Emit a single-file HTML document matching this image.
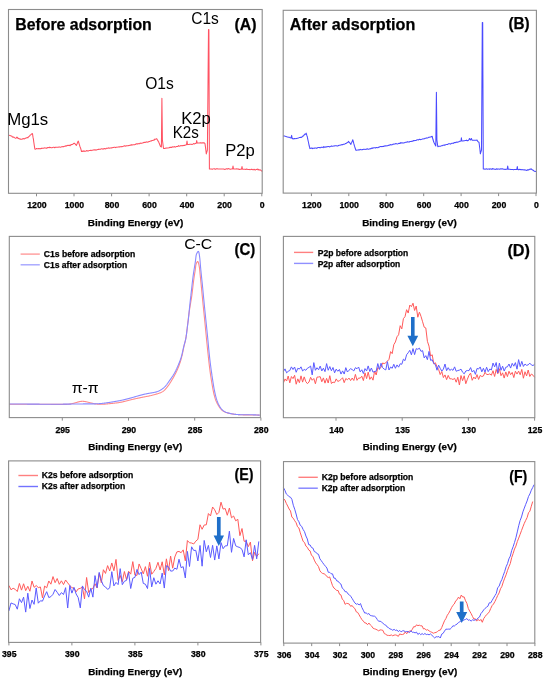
<!DOCTYPE html>
<html><head><meta charset="utf-8"><title>XPS spectra before and after adsorption</title>
<style>html,body{margin:0;padding:0;background:#fff;}svg{display:block;}</style>
</head><body>
<svg width="550" height="683" viewBox="0 0 550 683">
<rect width="550" height="683" fill="#fff"/>
<polyline points="8.50,134.90 9.20,135.29 9.90,135.48 10.60,135.66 11.30,136.08 12.00,136.28 12.00,136.51 12.70,137.11 13.40,137.02 14.10,137.31 14.80,137.87 15.50,138.15 16.00,138.32 16.20,137.84 16.90,137.12 17.00,137.15 17.60,137.66 18.00,138.50 18.30,138.29 19.00,138.67 19.70,138.79 20.00,139.25 20.40,138.99 21.10,139.28 21.80,139.20 22.50,139.07 23.20,138.51 23.90,138.89 24.00,138.99 24.60,138.80 25.30,138.18 26.00,138.14 26.70,137.77 27.40,137.55 28.00,137.73 28.10,137.22 28.80,136.69 29.50,136.19 30.20,135.17 30.90,134.58 31.50,134.02 31.60,133.99 32.30,133.57 32.50,133.82 33.00,137.20 33.50,139.66 33.70,141.54 34.40,146.12 34.80,148.66 35.10,149.22 35.80,148.91 36.50,148.44 37.20,148.68 37.90,148.75 38.60,148.54 39.30,148.69 40.00,148.49 40.00,148.65 40.70,148.75 41.40,148.23 42.10,148.36 42.80,148.15 43.50,148.21 44.20,147.86 44.90,147.93 45.60,147.95 46.30,148.13 47.00,148.12 47.70,147.52 48.40,147.57 49.10,147.82 49.80,147.18 50.00,147.50 50.50,147.55 51.20,147.82 51.90,147.66 52.60,147.40 53.30,147.35 54.00,147.34 54.70,147.70 55.40,147.24 56.10,147.23 56.80,147.34 57.50,147.20 58.20,147.15 58.90,146.91 59.60,147.12 60.00,147.00 60.30,147.30 61.00,147.06 61.70,146.79 62.40,146.82 63.10,146.47 63.80,146.65 64.50,146.29 65.20,146.29 65.90,145.75 66.60,145.99 67.30,145.41 68.00,145.21 68.70,145.47 69.40,145.21 70.00,145.34 70.10,145.76 70.80,144.83 71.50,144.62 72.20,144.55 72.50,144.51 72.90,144.06 73.60,143.51 74.20,143.25 74.30,143.32 75.00,143.71 75.70,144.65 76.40,145.41 76.40,145.17 77.10,143.80 77.80,141.90 78.30,141.11 78.50,141.65 79.20,144.10 79.60,145.37 79.90,146.42 80.60,148.22 81.30,150.62 81.50,151.58 82.00,150.97 82.70,151.55 83.40,150.89 84.10,151.36 84.80,150.93 85.50,151.20 86.20,150.98 86.90,150.53 87.60,151.06 88.30,151.02 89.00,150.60 89.70,150.48 90.00,150.46 90.40,150.24 91.10,150.61 91.80,150.16 92.50,150.19 93.20,149.94 93.90,149.89 94.60,149.67 95.30,150.14 96.00,149.75 96.70,149.91 97.40,149.61 98.10,149.38 98.80,149.37 99.50,149.24 100.00,149.30 100.20,149.19 100.90,149.12 101.60,148.80 102.30,148.83 103.00,149.29 103.70,148.69 104.40,148.52 105.10,148.74 105.80,148.88 106.50,148.17 107.20,148.35 107.90,148.17 108.60,147.84 109.30,148.30 110.00,148.04 110.70,147.98 111.40,147.71 112.10,147.89 112.80,147.58 113.50,147.58 114.20,147.28 114.90,147.17 115.60,147.64 116.30,147.15 117.00,147.24 117.70,147.08 118.40,146.90 119.10,146.80 119.80,146.96 120.00,146.73 120.50,146.68 121.20,146.61 121.90,146.75 122.60,146.52 123.30,146.34 124.00,146.02 124.70,145.72 125.40,146.12 126.10,146.01 126.80,145.65 127.50,145.68 128.20,145.62 128.90,145.51 129.60,145.42 130.30,145.00 131.00,145.32 131.70,144.60 132.40,144.94 133.10,144.75 133.80,144.72 134.50,144.82 135.20,144.62 135.90,143.92 136.60,143.69 137.30,144.13 138.00,143.61 138.70,143.71 139.40,143.78 140.00,143.14 140.10,143.02 140.80,143.40 141.50,143.21 142.20,143.01 142.90,142.93 143.60,142.59 144.30,142.31 145.00,142.46 145.70,142.15 146.40,141.86 147.10,142.19 147.80,141.93 148.50,141.89 149.20,141.44 149.90,141.38 150.00,141.28 150.60,141.05 151.30,140.98 152.00,140.47 152.70,140.42 153.40,140.11 154.10,140.18 154.80,139.13 155.50,139.33 156.20,138.81 156.50,138.70 156.90,138.94 157.60,140.14 158.30,141.38 158.50,141.48 159.00,142.77 159.70,144.44 160.40,146.25 160.50,146.50 161.10,146.83 161.40,147.00 161.80,107.96 161.90,98.20 162.40,140.00 162.50,140.77 163.20,146.18 163.50,148.50 163.90,148.44 164.60,148.58 165.30,148.26 166.00,148.13 166.70,148.00 167.40,147.91 168.10,147.97 168.80,147.81 169.50,147.62 170.00,147.27 170.20,147.58 170.90,147.21 171.60,147.50 172.30,146.88 173.00,147.02 173.70,146.94 174.40,146.55 175.10,147.11 175.80,146.95 176.50,146.42 177.20,146.59 177.90,146.40 178.60,145.64 179.30,146.16 180.00,145.99 180.00,146.02 180.70,145.63 181.40,145.68 182.10,145.57 182.80,145.74 183.50,145.43 184.20,145.22 184.90,145.43 185.60,144.97 186.30,144.84 186.50,144.80 187.00,141.00 187.00,141.00 187.50,144.60 187.70,144.58 188.40,144.50 189.10,144.47 189.80,144.29 190.50,144.23 191.20,144.21 191.90,144.45 192.60,144.17 193.00,143.99 193.30,143.80 194.00,143.61 194.70,143.93 195.40,143.40 196.10,143.23 196.20,143.20 196.70,140.50 196.80,141.02 197.20,143.10 197.50,143.09 198.20,143.07 198.90,143.01 199.60,143.06 200.30,142.67 201.00,142.95 201.00,142.81 201.70,143.12 202.40,142.68 203.10,142.90 203.80,143.04 203.80,142.63 204.50,143.03 205.00,143.54 205.20,145.08 205.90,150.41 206.30,153.90 206.60,152.76 207.30,150.35 207.40,150.00 208.00,84.27 208.50,29.50 208.70,29.50 208.90,29.50 209.10,85.00 209.40,168.90 209.40,168.90 210.10,168.91 210.80,168.98 211.50,169.06 212.20,169.38 212.90,168.92 213.60,168.84 214.30,168.69 215.00,169.01 215.00,169.33 215.70,169.21 216.40,168.79 217.10,168.81 217.80,168.89 218.50,169.06 219.20,168.95 219.90,169.05 220.60,169.07 221.30,168.93 222.00,168.99 222.70,169.05 223.40,168.98 224.10,169.11 224.80,169.41 225.50,169.13 226.20,169.01 226.90,168.63 227.60,169.09 228.30,168.57 229.00,168.69 229.70,169.19 230.40,169.16 231.10,169.00 231.80,169.00 232.50,169.00 232.50,169.00 233.00,166.00 233.20,167.20 233.50,169.00 233.90,169.01 234.60,169.03 235.30,169.03 236.00,169.02 236.70,168.83 237.40,169.12 238.10,168.86 238.80,169.38 239.50,169.38 240.20,169.17 240.90,169.18 241.50,169.20 241.60,168.66 242.00,166.50 242.30,168.12 242.50,169.20 243.00,169.22 243.70,169.25 244.40,169.23 245.10,169.35 245.80,169.55 246.50,168.98 247.20,169.22 247.90,169.45 248.60,169.53 249.30,169.39 250.00,169.73 250.70,169.57 251.40,169.29 252.10,169.38 252.80,169.79 253.50,169.74 254.20,169.25 254.90,169.99 255.00,169.83 255.60,169.92 256.30,169.44 257.00,169.37 257.70,169.09 258.00,169.86 258.40,169.40 259.10,170.03 259.80,169.79 260.00,170.04 260.50,169.88 261.20,170.52 261.90,171.17 262.00,170.72" fill="none" stroke="#ff5262" stroke-width="1.05" stroke-linejoin="round" stroke-opacity="1.0"/>
<rect x="8.5" y="9.5" width="253.7" height="183.8" fill="none" stroke="#8c8c8c" stroke-width="1.1"/>
<line x1="36.5" y1="193.3" x2="36.5" y2="196.3" stroke="#8c8c8c" stroke-width="1"/>
<text x="36.9" y="208" font-family="'Liberation Sans', Arial, sans-serif" font-size="8.4" font-weight="bold" text-anchor="middle" fill="#000" stroke="#000" stroke-width="0.25" textLength="19.4" lengthAdjust="spacingAndGlyphs">1200</text>
<line x1="74.0" y1="193.3" x2="74.0" y2="196.3" stroke="#8c8c8c" stroke-width="1"/>
<text x="74.4" y="208" font-family="'Liberation Sans', Arial, sans-serif" font-size="8.4" font-weight="bold" text-anchor="middle" fill="#000" stroke="#000" stroke-width="0.25" textLength="19.4" lengthAdjust="spacingAndGlyphs">1000</text>
<line x1="111.6" y1="193.3" x2="111.6" y2="196.3" stroke="#8c8c8c" stroke-width="1"/>
<text x="112.0" y="208" font-family="'Liberation Sans', Arial, sans-serif" font-size="8.4" font-weight="bold" text-anchor="middle" fill="#000" stroke="#000" stroke-width="0.25" textLength="14.55" lengthAdjust="spacingAndGlyphs">800</text>
<line x1="149.1" y1="193.3" x2="149.1" y2="196.3" stroke="#8c8c8c" stroke-width="1"/>
<text x="149.5" y="208" font-family="'Liberation Sans', Arial, sans-serif" font-size="8.4" font-weight="bold" text-anchor="middle" fill="#000" stroke="#000" stroke-width="0.25" textLength="14.55" lengthAdjust="spacingAndGlyphs">600</text>
<line x1="186.7" y1="193.3" x2="186.7" y2="196.3" stroke="#8c8c8c" stroke-width="1"/>
<text x="187.1" y="208" font-family="'Liberation Sans', Arial, sans-serif" font-size="8.4" font-weight="bold" text-anchor="middle" fill="#000" stroke="#000" stroke-width="0.25" textLength="14.55" lengthAdjust="spacingAndGlyphs">400</text>
<line x1="224.2" y1="193.3" x2="224.2" y2="196.3" stroke="#8c8c8c" stroke-width="1"/>
<text x="224.6" y="208" font-family="'Liberation Sans', Arial, sans-serif" font-size="8.4" font-weight="bold" text-anchor="middle" fill="#000" stroke="#000" stroke-width="0.25" textLength="14.55" lengthAdjust="spacingAndGlyphs">200</text>
<line x1="261.8" y1="193.3" x2="261.8" y2="196.3" stroke="#8c8c8c" stroke-width="1"/>
<text x="262.2" y="208" font-family="'Liberation Sans', Arial, sans-serif" font-size="8.4" font-weight="bold" text-anchor="middle" fill="#000" stroke="#000" stroke-width="0.25" textLength="4.85" lengthAdjust="spacingAndGlyphs">0</text>
<text x="87.7" y="225.7" font-family="'Liberation Sans', Arial, sans-serif" font-size="9.9" font-weight="bold" text-anchor="start" fill="#000" stroke="#000" stroke-width="0.25" textLength="95.6" lengthAdjust="spacingAndGlyphs">Binding Energy (eV)</text>
<text x="15.2" y="29.6" font-family="'Liberation Sans', Arial, sans-serif" font-size="16" font-weight="bold" text-anchor="start" fill="#000" stroke="#000" stroke-width="0.25" textLength="136.6" lengthAdjust="spacingAndGlyphs">Before adsorption</text>
<text x="234.4" y="29.8" font-family="'Liberation Sans', Arial, sans-serif" font-size="16.6" font-weight="bold" text-anchor="start" fill="#000" stroke="#000" stroke-width="0.25" textLength="22.1" lengthAdjust="spacingAndGlyphs">(A)</text>
<text x="191.2" y="23.8" font-family="'Liberation Sans', Arial, sans-serif" font-size="16.2" font-weight="normal" text-anchor="start" fill="#000" textLength="27.6" lengthAdjust="spacingAndGlyphs">C1s</text>
<text x="145.2" y="88.9" font-family="'Liberation Sans', Arial, sans-serif" font-size="16.2" font-weight="normal" text-anchor="start" fill="#000" textLength="28.6" lengthAdjust="spacingAndGlyphs">O1s</text>
<text x="7.2" y="124.8" font-family="'Liberation Sans', Arial, sans-serif" font-size="16.2" font-weight="normal" text-anchor="start" fill="#000" textLength="41.1" lengthAdjust="spacingAndGlyphs">Mg1s</text>
<text x="181.2" y="123.7" font-family="'Liberation Sans', Arial, sans-serif" font-size="16.2" font-weight="normal" text-anchor="start" fill="#000" textLength="29.6" lengthAdjust="spacingAndGlyphs">K2p</text>
<text x="172.7" y="137.7" font-family="'Liberation Sans', Arial, sans-serif" font-size="16.2" font-weight="normal" text-anchor="start" fill="#000" textLength="26.1" lengthAdjust="spacingAndGlyphs">K2s</text>
<text x="225.2" y="156.3" font-family="'Liberation Sans', Arial, sans-serif" font-size="16.2" font-weight="normal" text-anchor="start" fill="#000" textLength="29.6" lengthAdjust="spacingAndGlyphs">P2p</text>
<polyline points="283.20,136.04 283.90,136.08 284.60,135.98 285.30,136.30 286.00,136.52 286.70,136.81 287.40,136.91 288.00,137.02 288.10,137.16 288.80,137.19 289.50,137.32 290.20,137.79 290.90,137.97 291.00,138.00 291.60,135.40 291.60,135.40 292.20,138.60 292.30,138.60 293.00,138.60 293.70,138.93 294.40,138.43 295.10,138.69 295.80,138.55 296.00,138.43 296.50,138.60 297.20,138.25 297.90,138.23 298.60,137.90 299.30,137.48 300.00,137.51 300.70,137.36 301.40,137.37 302.00,136.80 302.10,136.91 302.80,135.94 303.50,135.86 304.20,134.88 304.90,134.12 305.50,133.99 305.60,134.17 306.20,133.16 306.30,133.58 307.00,135.88 307.30,136.75 307.70,138.97 308.40,142.00 309.00,144.84 309.10,145.52 309.80,147.94 309.90,148.60 310.50,148.24 311.20,148.13 311.90,147.94 312.60,148.70 313.30,148.16 314.00,148.23 314.70,148.11 315.40,148.10 316.10,148.02 316.80,148.37 317.50,147.67 318.20,147.50 318.90,147.56 319.60,147.44 320.00,147.86 320.30,147.84 321.00,147.37 321.70,147.19 322.40,147.33 323.10,147.63 323.80,146.62 324.50,147.28 325.20,146.84 325.90,147.22 326.60,146.67 327.30,146.76 328.00,146.41 328.70,146.44 329.40,146.88 330.00,146.68 330.10,146.40 330.80,146.21 331.50,145.90 332.20,146.15 332.90,146.15 333.60,146.05 334.30,145.96 335.00,145.65 335.70,145.80 336.40,145.72 337.10,145.93 337.80,145.97 338.50,145.45 339.20,145.23 339.90,145.30 340.00,145.17 340.60,144.97 341.30,144.92 342.00,144.50 342.70,144.67 343.40,144.31 344.10,144.19 344.80,143.90 345.50,143.58 346.00,143.39 346.20,143.41 346.90,142.85 347.60,142.53 348.30,141.98 348.70,141.40 349.00,142.10 349.70,142.68 350.40,143.73 350.90,144.44 351.10,143.55 351.80,142.29 352.50,140.58 352.80,139.77 353.20,141.23 353.90,143.90 354.30,145.29 354.60,146.38 355.30,148.51 355.80,150.22 356.00,149.92 356.70,150.16 357.40,150.07 358.10,149.94 358.80,149.81 359.50,149.96 360.20,149.40 360.90,149.80 361.60,149.68 362.30,149.62 363.00,149.57 363.70,149.28 364.40,149.30 365.10,149.42 365.80,149.31 366.50,149.19 367.20,148.74 367.90,149.13 368.60,149.20 369.30,149.09 370.00,148.85 370.00,148.46 370.70,148.87 371.40,148.50 372.10,147.84 372.80,148.35 373.50,147.81 374.20,147.72 374.90,147.73 375.60,148.02 376.30,147.52 377.00,147.53 377.70,147.72 378.40,147.55 379.10,147.05 379.80,146.88 380.50,146.53 381.20,146.52 381.90,146.63 382.60,146.49 383.30,146.30 384.00,146.36 384.70,145.84 385.40,145.86 386.10,145.90 386.80,145.74 387.50,145.71 388.20,145.43 388.90,145.14 389.60,145.16 390.00,144.78 390.30,144.59 391.00,144.95 391.70,144.69 392.40,144.65 393.10,144.08 393.80,144.25 394.50,144.08 395.20,143.90 395.90,143.47 396.60,143.77 397.30,143.92 398.00,143.68 398.70,143.35 399.40,143.35 400.10,143.40 400.80,142.50 401.50,142.96 402.20,142.98 402.90,142.89 403.60,142.99 404.30,142.75 405.00,142.44 405.70,142.32 406.40,142.30 407.10,141.89 407.80,141.88 408.50,141.96 409.20,142.07 409.90,141.48 410.00,141.49 410.60,141.42 411.30,141.54 412.00,141.09 412.70,141.28 413.40,140.61 414.10,140.64 414.80,140.50 415.50,140.57 416.20,140.49 416.90,139.79 417.60,139.78 418.30,139.91 419.00,139.56 419.70,139.23 420.40,139.65 421.10,139.39 421.80,139.25 422.50,138.90 423.20,139.09 423.90,138.67 424.60,138.82 425.00,138.30 425.30,138.22 426.00,138.25 426.70,137.85 427.40,137.95 428.10,137.65 428.80,137.19 429.50,137.20 430.20,136.91 430.90,136.98 431.60,136.44 432.20,136.30 432.30,137.00 433.00,139.53 433.70,141.79 434.20,143.00 434.40,143.37 435.10,144.69 435.80,146.00 435.80,146.00 436.40,92.20 436.50,101.76 436.90,140.00 437.20,142.23 437.80,146.70 437.90,146.68 438.60,146.34 439.30,146.31 440.00,146.23 440.70,146.15 441.40,145.78 442.10,145.79 442.80,145.32 443.50,145.27 444.20,144.96 444.90,145.27 445.00,144.99 445.60,144.69 446.30,144.60 447.00,144.45 447.70,144.48 448.40,143.80 449.10,143.75 449.80,143.72 450.50,144.18 451.20,143.66 451.90,143.25 452.60,143.26 453.30,143.38 454.00,142.70 454.70,142.49 455.00,142.77 455.40,142.51 456.10,142.37 456.80,141.94 457.50,142.30 458.20,142.08 458.90,141.65 459.60,141.35 460.30,141.18 461.00,141.00 461.00,141.00 461.40,137.70 461.70,140.17 461.80,141.00 462.40,140.95 463.10,140.90 463.80,140.68 464.50,140.71 465.20,140.59 465.90,140.59 466.60,140.10 467.30,140.82 468.00,140.56 468.00,140.74 468.70,140.00 469.40,138.63 469.50,138.50 470.10,139.50 470.40,140.00 470.80,139.40 471.40,138.50 471.50,138.78 472.00,140.20 472.20,140.20 472.90,140.22 473.60,140.21 474.30,140.18 475.00,140.24 475.70,140.16 476.40,140.15 477.00,139.93 477.10,140.38 477.80,141.39 478.50,142.01 479.00,142.29 479.20,143.80 479.90,149.24 480.40,153.82 480.60,152.85 481.30,150.64 481.50,150.00 482.00,70.31 482.30,22.50 482.70,22.50 482.70,22.50 482.90,75.00 483.30,169.00 483.40,169.00 484.10,169.00 484.80,169.12 485.50,169.16 486.20,168.75 486.90,168.95 487.60,169.20 488.30,169.06 489.00,169.03 489.70,169.34 490.00,168.85 490.40,169.02 491.10,168.90 491.80,169.35 492.50,168.60 493.20,168.89 493.90,168.93 494.60,169.20 495.30,169.20 496.00,169.38 496.70,168.73 497.40,169.25 498.10,169.03 498.80,168.96 499.50,169.23 500.20,168.92 500.90,168.67 501.60,169.05 502.30,168.81 503.00,169.01 503.70,169.24 504.40,169.24 505.10,169.52 505.80,169.18 506.50,169.19 507.20,169.20 507.20,169.20 507.70,166.00 507.90,167.32 508.20,169.30 508.60,169.31 509.30,169.33 510.00,169.32 510.70,169.44 511.40,169.40 512.10,169.53 512.80,169.42 513.50,169.70 514.20,169.53 514.90,169.54 515.60,169.47 516.30,169.49 516.80,169.50 517.00,168.30 517.30,166.50 517.70,168.98 517.80,169.60 518.40,169.62 519.10,169.65 519.80,169.30 520.50,169.64 521.20,169.71 521.90,169.60 522.60,169.81 523.30,169.67 524.00,169.96 524.70,169.71 525.40,169.89 526.10,170.14 526.80,170.52 527.50,169.76 528.00,169.90 528.20,169.75 528.90,169.87 529.60,169.21 530.30,169.13 531.00,168.99 531.00,168.78 531.70,169.31 532.40,169.95 533.00,170.04 533.10,170.23 533.80,170.76 534.50,171.18 535.20,171.41 535.90,171.37 536.00,171.70" fill="none" stroke="#4a4aff" stroke-width="1.05" stroke-linejoin="round" stroke-opacity="1.0"/>
<rect x="283.2" y="10.3" width="253.2" height="182.79999999999998" fill="none" stroke="#8c8c8c" stroke-width="1.1"/>
<line x1="311.4" y1="193.1" x2="311.4" y2="196.1" stroke="#8c8c8c" stroke-width="1"/>
<text x="311.8" y="208" font-family="'Liberation Sans', Arial, sans-serif" font-size="8.4" font-weight="bold" text-anchor="middle" fill="#000" stroke="#000" stroke-width="0.25" textLength="19.4" lengthAdjust="spacingAndGlyphs">1200</text>
<line x1="348.8" y1="193.1" x2="348.8" y2="196.1" stroke="#8c8c8c" stroke-width="1"/>
<text x="349.2" y="208" font-family="'Liberation Sans', Arial, sans-serif" font-size="8.4" font-weight="bold" text-anchor="middle" fill="#000" stroke="#000" stroke-width="0.25" textLength="19.4" lengthAdjust="spacingAndGlyphs">1000</text>
<line x1="386.2" y1="193.1" x2="386.2" y2="196.1" stroke="#8c8c8c" stroke-width="1"/>
<text x="386.6" y="208" font-family="'Liberation Sans', Arial, sans-serif" font-size="8.4" font-weight="bold" text-anchor="middle" fill="#000" stroke="#000" stroke-width="0.25" textLength="14.55" lengthAdjust="spacingAndGlyphs">800</text>
<line x1="423.7" y1="193.1" x2="423.7" y2="196.1" stroke="#8c8c8c" stroke-width="1"/>
<text x="424.1" y="208" font-family="'Liberation Sans', Arial, sans-serif" font-size="8.4" font-weight="bold" text-anchor="middle" fill="#000" stroke="#000" stroke-width="0.25" textLength="14.55" lengthAdjust="spacingAndGlyphs">600</text>
<line x1="461.1" y1="193.1" x2="461.1" y2="196.1" stroke="#8c8c8c" stroke-width="1"/>
<text x="461.5" y="208" font-family="'Liberation Sans', Arial, sans-serif" font-size="8.4" font-weight="bold" text-anchor="middle" fill="#000" stroke="#000" stroke-width="0.25" textLength="14.55" lengthAdjust="spacingAndGlyphs">400</text>
<line x1="498.6" y1="193.1" x2="498.6" y2="196.1" stroke="#8c8c8c" stroke-width="1"/>
<text x="499.0" y="208" font-family="'Liberation Sans', Arial, sans-serif" font-size="8.4" font-weight="bold" text-anchor="middle" fill="#000" stroke="#000" stroke-width="0.25" textLength="14.55" lengthAdjust="spacingAndGlyphs">200</text>
<line x1="536.0" y1="193.1" x2="536.0" y2="196.1" stroke="#8c8c8c" stroke-width="1"/>
<text x="536.4" y="208" font-family="'Liberation Sans', Arial, sans-serif" font-size="8.4" font-weight="bold" text-anchor="middle" fill="#000" stroke="#000" stroke-width="0.25" textLength="4.85" lengthAdjust="spacingAndGlyphs">0</text>
<text x="362.2" y="225.8" font-family="'Liberation Sans', Arial, sans-serif" font-size="9.9" font-weight="bold" text-anchor="start" fill="#000" stroke="#000" stroke-width="0.25" textLength="94.6" lengthAdjust="spacingAndGlyphs">Binding Energy (eV)</text>
<text x="289.7" y="29.5" font-family="'Liberation Sans', Arial, sans-serif" font-size="16" font-weight="bold" text-anchor="start" fill="#000" stroke="#000" stroke-width="0.25" textLength="125.6" lengthAdjust="spacingAndGlyphs">After adsorption</text>
<text x="508.4" y="29.0" font-family="'Liberation Sans', Arial, sans-serif" font-size="16.6" font-weight="bold" text-anchor="start" fill="#000" stroke="#000" stroke-width="0.25" textLength="21.2" lengthAdjust="spacingAndGlyphs">(B)</text>
<polyline points="9.30,404.20 9.80,404.21 10.30,404.21 10.81,404.22 11.31,404.22 11.81,404.23 12.31,404.23 12.81,404.24 13.31,404.24 13.81,404.24 14.31,404.25 14.81,404.25 15.31,404.26 15.82,404.26 16.32,404.26 16.82,404.27 17.32,404.27 17.82,404.27 18.32,404.27 18.82,404.28 19.32,404.28 19.82,404.28 20.32,404.28 20.82,404.28 21.31,404.29 21.81,404.29 22.31,404.29 22.81,404.29 23.31,404.29 23.81,404.29 24.31,404.29 24.81,404.30 25.31,404.30 25.81,404.30 26.31,404.30 26.81,404.30 27.31,404.30 27.80,404.30 28.30,404.30 28.80,404.30 29.30,404.30 29.80,404.30 30.30,404.30 30.80,404.30 31.30,404.30 31.80,404.30 32.29,404.30 32.79,404.30 33.29,404.30 33.79,404.30 34.29,404.30 34.79,404.30 35.29,404.30 35.79,404.30 36.28,404.30 36.78,404.30 37.28,404.30 37.78,404.30 38.28,404.30 38.78,404.30 39.28,404.30 39.78,404.30 40.28,404.30 40.78,404.30 41.27,404.30 41.77,404.30 42.27,404.30 42.77,404.30 43.27,404.30 43.77,404.30 44.27,404.31 44.77,404.31 45.27,404.31 45.77,404.31 46.27,404.31 46.77,404.31 47.27,404.31 47.77,404.31 48.27,404.32 48.77,404.32 49.27,404.32 49.77,404.32 50.27,404.32 50.77,404.33 51.27,404.33 51.77,404.33 52.27,404.33 52.77,404.34 53.27,404.34 53.78,404.34 54.28,404.35 54.78,404.35 55.28,404.35 55.78,404.36 56.28,404.36 56.78,404.37 57.29,404.37 57.79,404.38 58.29,404.38 58.79,404.39 59.30,404.39 59.80,404.40 60.30,404.40 60.80,404.41 61.31,404.42 61.81,404.42 62.31,404.42 62.82,404.42 63.32,404.42 63.82,404.42 64.32,404.42 64.82,404.41 65.32,404.39 65.82,404.37 66.32,404.35 66.82,404.33 67.32,404.29 67.82,404.25 68.31,404.21 68.81,404.16 69.30,404.10 69.79,404.03 70.29,403.96 70.78,403.87 71.27,403.78 71.75,403.68 72.24,403.58 72.73,403.47 73.21,403.35 73.70,403.23 74.19,403.11 74.67,402.98 75.16,402.84 75.64,402.70 76.13,402.56 76.61,402.42 77.10,402.28 77.58,402.14 78.07,402.00 78.56,401.87 79.05,401.75 79.54,401.64 80.03,401.54 80.52,401.45 81.01,401.38 81.50,401.33 81.99,401.30 82.49,401.29 82.98,401.30 83.48,401.34 83.97,401.39 84.47,401.45 84.96,401.53 85.46,401.62 85.95,401.72 86.45,401.83 86.94,401.94 87.43,402.06 87.93,402.18 88.42,402.30 88.90,402.43 89.39,402.55 89.88,402.68 90.36,402.80 90.85,402.92 91.34,403.04 91.82,403.15 92.31,403.26 92.79,403.37 93.28,403.48 93.77,403.57 94.26,403.67 94.75,403.76 95.24,403.84 95.73,403.91 96.23,403.98 96.73,404.05 97.22,404.10 97.72,404.15 98.22,404.19 98.72,404.23 99.22,404.26 99.72,404.28 100.22,404.29 100.72,404.30 101.22,404.30 101.72,404.29 102.22,404.28 102.72,404.26 103.22,404.24 103.72,404.21 104.22,404.17 104.72,404.13 105.21,404.09 105.71,404.05 106.21,404.00 106.71,403.95 107.21,403.90 107.70,403.85 108.20,403.79 108.70,403.74 109.20,403.69 109.70,403.63 110.19,403.58 110.69,403.53 111.19,403.48 111.69,403.43 112.19,403.38 112.69,403.33 113.19,403.28 113.68,403.23 114.18,403.18 114.68,403.13 115.18,403.07 115.67,403.02 116.17,402.96 116.67,402.90 117.16,402.84 117.66,402.77 118.15,402.70 118.65,402.63 119.14,402.55 119.63,402.47 120.12,402.38 120.61,402.29 121.10,402.19 121.59,402.09 122.08,401.98 122.57,401.88 123.05,401.76 123.54,401.65 124.03,401.53 124.51,401.41 125.00,401.29 125.48,401.17 125.97,401.04 126.45,400.92 126.94,400.79 127.42,400.67 127.91,400.54 128.39,400.41 128.87,400.29 129.36,400.16 129.84,400.04 130.33,399.92 130.82,399.80 131.30,399.68 131.79,399.56 132.27,399.45 132.76,399.33 133.25,399.22 133.74,399.11 134.22,399.00 134.71,398.89 135.20,398.78 135.69,398.67 136.17,398.57 136.66,398.46 137.15,398.36 137.64,398.25 138.13,398.15 138.62,398.05 139.11,397.95 139.60,397.85 140.09,397.75 140.58,397.65 141.07,397.55 141.56,397.45 142.05,397.36 142.54,397.26 143.03,397.16 143.52,397.06 144.01,396.97 144.50,396.87 145.00,396.78 145.49,396.68 145.98,396.58 146.47,396.49 146.96,396.39 147.45,396.29 147.94,396.19 148.43,396.10 148.92,395.99 149.41,395.89 149.90,395.79 150.39,395.68 150.88,395.57 151.36,395.45 151.85,395.34 152.33,395.22 152.81,395.09 153.30,394.96 153.78,394.83 154.26,394.70 154.74,394.56 155.22,394.42 155.70,394.28 156.18,394.14 156.66,393.99 157.14,393.85 157.62,393.70 158.11,393.56 158.59,393.41 159.07,393.25 159.55,393.09 160.03,392.92 160.50,392.73 160.96,392.54 161.41,392.33 161.85,392.10 162.28,391.86 162.70,391.60 163.11,391.31 163.50,391.01 163.89,390.69 164.26,390.35 164.62,390.00 164.97,389.64 165.32,389.27 165.65,388.90 165.98,388.52 166.31,388.14 166.63,387.75 166.95,387.36 167.26,386.97 167.56,386.58 167.87,386.18 168.16,385.78 168.46,385.37 168.74,384.97 169.03,384.56 169.31,384.14 169.59,383.73 169.86,383.31 170.13,382.89 170.40,382.46 170.67,382.04 170.93,381.61 171.19,381.19 171.45,380.76 171.71,380.33 171.97,379.90 172.22,379.47 172.48,379.04 172.73,378.61 172.98,378.17 173.23,377.74 173.47,377.30 173.71,376.87 173.96,376.43 174.20,375.99 174.43,375.55 174.67,375.11 174.90,374.67 175.13,374.22 175.36,373.78 175.59,373.33 175.81,372.89 176.03,372.44 176.25,371.99 176.47,371.54 176.68,371.08 176.89,370.63 177.10,370.18 177.31,369.72 177.51,369.26 177.71,368.81 177.91,368.35 178.10,367.88 178.29,367.42 178.48,366.96 178.66,366.49 178.84,366.03 179.02,365.56 179.19,365.09 179.36,364.62 179.53,364.15 179.69,363.68 179.85,363.20 180.01,362.73 180.17,362.25 180.32,361.77 180.47,361.30 180.62,360.82 180.76,360.34 180.90,359.86 181.04,359.38 181.17,358.90 181.31,358.42 181.44,357.93 181.56,357.45 181.69,356.96 181.81,356.48 181.93,355.99 182.05,355.51 182.16,355.02 182.27,354.53 182.38,354.05 182.49,353.56 182.59,353.07 182.69,352.58 182.79,352.09 182.89,351.60 182.99,351.11 183.09,350.62 183.18,350.13 183.28,349.64 183.38,349.15 183.48,348.66 183.58,348.17 183.68,347.68 183.79,347.19 183.90,346.70 184.01,346.21 184.13,345.73 184.24,345.24 184.36,344.75 184.48,344.27 184.60,343.78 184.72,343.30 184.84,342.81 184.96,342.33 185.08,341.84 185.20,341.35 185.31,340.87 185.42,340.38 185.52,339.89 185.62,339.40 185.72,338.91 185.81,338.42 185.90,337.93 185.99,337.44 186.07,336.94 186.15,336.45 186.23,335.96 186.30,335.46 186.37,334.97 186.44,334.47 186.51,333.98 186.58,333.48 186.64,332.98 186.70,332.49 186.76,331.99 186.82,331.49 186.88,331.00 186.94,330.50 187.00,330.00 187.06,329.50 187.12,329.01 187.17,328.51 187.23,328.01 187.29,327.52 187.34,327.02 187.40,326.52 187.46,326.02 187.51,325.53 187.57,325.03 187.63,324.53 187.69,324.04 187.74,323.54 187.80,323.04 187.86,322.55 187.92,322.05 187.97,321.56 188.03,321.06 188.09,320.56 188.15,320.07 188.21,319.57 188.27,319.07 188.33,318.58 188.39,318.08 188.45,317.59 188.52,317.09 188.58,316.59 188.64,316.10 188.71,315.60 188.77,315.11 188.84,314.61 188.91,314.12 188.97,313.62 189.04,313.13 189.11,312.63 189.18,312.13 189.26,311.64 189.33,311.14 189.40,310.65 189.48,310.16 189.55,309.66 189.63,309.17 189.71,308.67 189.79,308.18 189.87,307.68 189.95,307.19 190.03,306.69 190.11,306.20 190.19,305.71 190.27,305.21 190.35,304.72 190.44,304.22 190.52,303.73 190.60,303.24 190.68,302.74 190.77,302.25 190.85,301.76 190.93,301.26 191.01,300.77 191.09,300.28 191.17,299.78 191.25,299.29 191.33,298.80 191.40,298.30 191.48,297.81 191.55,297.32 191.62,296.82 191.70,296.33 191.77,295.84 191.83,295.35 191.90,294.85 191.97,294.36 192.03,293.87 192.09,293.38 192.16,292.88 192.22,292.39 192.28,291.90 192.34,291.41 192.40,290.91 192.46,290.42 192.52,289.93 192.57,289.43 192.63,288.94 192.69,288.44 192.75,287.95 192.80,287.46 192.86,286.96 192.92,286.47 192.98,285.97 193.04,285.47 193.09,284.98 193.15,284.48 193.21,283.98 193.27,283.49 193.33,282.99 193.40,282.49 193.46,281.99 193.52,281.49 193.59,280.99 193.65,280.49 193.72,279.99 193.79,279.49 193.86,278.98 193.93,278.48 194.00,277.98 194.08,277.47 194.15,276.97 194.23,276.46 194.31,275.96 194.39,275.45 194.47,274.94 194.55,274.44 194.63,273.94 194.71,273.43 194.79,272.93 194.86,272.43 194.94,271.93 195.02,271.44 195.09,270.94 195.16,270.45 195.23,269.96 195.30,269.47 195.36,268.99 195.43,268.51 195.48,268.03 195.54,267.56 195.59,267.09 195.64,266.62 195.69,266.15 195.75,265.69 195.82,265.22 195.91,264.75 196.03,264.26 196.19,263.77 196.39,263.26 196.63,262.74 196.93,262.20 197.25,261.75 197.57,261.51 197.86,261.58 198.10,261.94 198.32,262.48 198.50,263.12 198.67,263.78 198.82,264.41 198.95,265.00 199.07,265.57 199.18,266.11 199.27,266.62 199.35,267.12 199.43,267.59 199.49,268.05 199.55,268.50 199.60,268.94 199.65,269.38 199.69,269.81 199.73,270.24 199.77,270.67 199.81,271.11 199.85,271.55 199.89,272.00 199.94,272.46 199.98,272.92 200.03,273.39 200.07,273.86 200.12,274.34 200.17,274.82 200.22,275.31 200.26,275.80 200.31,276.30 200.36,276.80 200.41,277.31 200.47,277.81 200.52,278.32 200.57,278.83 200.62,279.35 200.67,279.86 200.73,280.38 200.78,280.90 200.83,281.42 200.88,281.94 200.94,282.46 200.99,282.98 201.04,283.50 201.09,284.02 201.14,284.53 201.19,285.05 201.25,285.56 201.30,286.08 201.35,286.59 201.40,287.10 201.45,287.61 201.50,288.11 201.54,288.62 201.59,289.12 201.64,289.63 201.69,290.13 201.74,290.63 201.79,291.13 201.83,291.63 201.88,292.12 201.93,292.62 201.98,293.12 202.02,293.61 202.07,294.11 202.12,294.60 202.16,295.09 202.21,295.59 202.26,296.08 202.30,296.57 202.35,297.06 202.40,297.56 202.45,298.05 202.49,298.54 202.54,299.03 202.59,299.52 202.64,300.01 202.68,300.50 202.73,301.00 202.78,301.49 202.83,301.98 202.88,302.47 202.93,302.96 202.98,303.46 203.03,303.95 203.07,304.45 203.12,304.94 203.18,305.44 203.23,305.93 203.28,306.43 203.33,306.92 203.38,307.42 203.43,307.91 203.48,308.41 203.53,308.91 203.58,309.41 203.63,309.90 203.69,310.40 203.74,310.90 203.79,311.40 203.84,311.89 203.89,312.39 203.94,312.89 203.99,313.39 204.05,313.89 204.10,314.39 204.15,314.89 204.20,315.39 204.25,315.89 204.30,316.38 204.35,316.88 204.41,317.38 204.46,317.88 204.51,318.38 204.56,318.88 204.61,319.38 204.66,319.88 204.71,320.38 204.76,320.88 204.81,321.37 204.86,321.87 204.91,322.37 204.95,322.87 205.00,323.37 205.05,323.87 205.10,324.36 205.15,324.86 205.20,325.36 205.24,325.86 205.29,326.36 205.34,326.85 205.39,327.35 205.43,327.85 205.48,328.35 205.53,328.84 205.58,329.34 205.62,329.84 205.67,330.34 205.72,330.83 205.77,331.33 205.81,331.83 205.86,332.33 205.91,332.82 205.96,333.32 206.01,333.82 206.05,334.31 206.10,334.81 206.15,335.31 206.20,335.81 206.24,336.30 206.29,336.80 206.34,337.30 206.39,337.80 206.44,338.29 206.49,338.79 206.54,339.29 206.59,339.78 206.63,340.28 206.68,340.78 206.73,341.28 206.78,341.77 206.83,342.27 206.88,342.77 206.93,343.27 206.98,343.76 207.04,344.26 207.09,344.76 207.14,345.26 207.19,345.75 207.24,346.25 207.29,346.75 207.34,347.25 207.39,347.74 207.44,348.24 207.50,348.74 207.55,349.24 207.60,349.73 207.65,350.23 207.70,350.73 207.76,351.23 207.81,351.72 207.86,352.22 207.91,352.72 207.97,353.21 208.02,353.71 208.07,354.21 208.13,354.71 208.18,355.20 208.23,355.70 208.29,356.20 208.34,356.70 208.39,357.19 208.45,357.69 208.50,358.19 208.56,358.68 208.61,359.18 208.66,359.68 208.72,360.17 208.77,360.67 208.83,361.17 208.89,361.67 208.94,362.16 209.00,362.66 209.06,363.16 209.11,363.65 209.17,364.15 209.23,364.65 209.29,365.14 209.35,365.64 209.41,366.13 209.47,366.63 209.53,367.13 209.59,367.62 209.66,368.12 209.72,368.62 209.78,369.11 209.85,369.61 209.91,370.10 209.98,370.60 210.05,371.09 210.11,371.59 210.18,372.09 210.25,372.58 210.32,373.08 210.39,373.57 210.46,374.07 210.53,374.56 210.60,375.06 210.68,375.55 210.75,376.05 210.82,376.54 210.90,377.03 210.97,377.53 211.05,378.02 211.13,378.52 211.20,379.01 211.28,379.50 211.36,380.00 211.43,380.49 211.51,380.98 211.59,381.48 211.67,381.97 211.75,382.46 211.83,382.96 211.92,383.45 212.00,383.94 212.08,384.43 212.17,384.93 212.25,385.42 212.34,385.91 212.43,386.40 212.52,386.90 212.61,387.39 212.70,387.88 212.79,388.37 212.88,388.86 212.98,389.36 213.07,389.85 213.17,390.34 213.27,390.83 213.37,391.32 213.47,391.81 213.57,392.31 213.67,392.80 213.78,393.29 213.89,393.78 214.00,394.27 214.12,394.75 214.24,395.24 214.36,395.73 214.49,396.21 214.62,396.69 214.76,397.17 214.90,397.65 215.05,398.13 215.21,398.60 215.37,399.08 215.53,399.55 215.70,400.01 215.88,400.48 216.07,400.94 216.27,401.40 216.47,401.85 216.67,402.31 216.89,402.76 217.11,403.20 217.34,403.65 217.57,404.09 217.81,404.53 218.06,404.97 218.32,405.40 218.58,405.83 218.85,406.26 219.12,406.69 219.41,407.11 219.70,407.53 220.00,407.95 220.30,408.35 220.62,408.75 220.95,409.13 221.29,409.50 221.64,409.86 222.00,410.20 222.37,410.52 222.76,410.83 223.17,411.11 223.58,411.38 224.01,411.62 224.46,411.85 224.91,412.05 225.37,412.25 225.84,412.42 226.32,412.59 226.81,412.74 227.29,412.88 227.79,413.01 228.28,413.13 228.78,413.25 229.28,413.36 229.77,413.47 230.27,413.57 230.76,413.66 231.26,413.75 231.75,413.84 232.25,413.92 232.74,414.00 233.24,414.07 233.73,414.14 234.23,414.20 234.72,414.26 235.21,414.32 235.71,414.38 236.20,414.43 236.69,414.47 237.19,414.52 237.68,414.56 238.17,414.59 238.66,414.63 239.16,414.66 239.65,414.69 240.14,414.72 240.64,414.74 241.13,414.76 241.62,414.78 242.12,414.80 242.61,414.82 243.11,414.83 243.60,414.85 244.10,414.86 244.59,414.87 245.09,414.88 245.58,414.89 246.08,414.89 246.57,414.90 247.07,414.90 247.57,414.91 248.06,414.91 248.56,414.92 249.06,414.92 249.56,414.93 250.06,414.93 250.56,414.93 251.06,414.94 251.56,414.94 252.06,414.95 252.56,414.95 253.07,414.96 253.57,414.97 254.07,414.98 254.58,414.99 255.08,415.00 255.59,415.01 256.10,415.03 256.60,415.04 257.11,415.06 257.62,415.08 258.13,415.10 258.64,415.13 259.16,415.15 259.67,415.18" fill="none" stroke="#ff8a8a" stroke-width="1.1" stroke-linejoin="round" stroke-opacity="1.0"/>
<polyline points="9.30,404.00 9.80,404.00 10.30,404.00 10.80,404.00 11.30,404.00 11.80,404.00 12.30,404.00 12.80,404.00 13.30,404.00 13.80,404.00 14.30,404.00 14.80,404.00 15.30,404.01 15.80,404.01 16.30,404.01 16.80,404.01 17.30,404.01 17.80,404.02 18.30,404.02 18.80,404.02 19.30,404.02 19.80,404.03 20.30,404.03 20.80,404.03 21.30,404.03 21.80,404.04 22.30,404.04 22.80,404.04 23.30,404.05 23.80,404.05 24.30,404.06 24.80,404.06 25.30,404.06 25.80,404.07 26.30,404.07 26.80,404.07 27.30,404.08 27.80,404.08 28.30,404.09 28.80,404.09 29.30,404.09 29.80,404.10 30.30,404.10 30.80,404.11 31.30,404.11 31.80,404.11 32.30,404.12 32.80,404.12 33.30,404.13 33.80,404.13 34.30,404.14 34.80,404.14 35.30,404.14 35.80,404.15 36.30,404.15 36.80,404.16 37.30,404.16 37.80,404.16 38.30,404.17 38.80,404.17 39.30,404.17 39.80,404.18 40.30,404.18 40.80,404.18 41.30,404.19 41.80,404.19 42.30,404.19 42.80,404.20 43.30,404.20 43.80,404.20 44.30,404.21 44.80,404.21 45.30,404.21 45.80,404.21 46.30,404.21 46.80,404.22 47.30,404.22 47.80,404.22 48.30,404.22 48.80,404.22 49.30,404.22 49.80,404.22 50.30,404.23 50.80,404.23 51.30,404.23 51.80,404.23 52.30,404.23 52.80,404.23 53.30,404.23 53.80,404.23 54.30,404.23 54.80,404.22 55.30,404.22 55.80,404.22 56.30,404.22 56.80,404.22 57.30,404.22 57.80,404.21 58.30,404.21 58.80,404.21 59.30,404.20 59.80,404.20 60.30,404.20 60.80,404.19 61.30,404.19 61.80,404.19 62.30,404.18 62.80,404.18 63.30,404.17 63.80,404.16 64.30,404.16 64.80,404.15 65.30,404.15 65.80,404.14 66.30,404.14 66.80,404.13 67.30,404.12 67.80,404.12 68.30,404.11 68.80,404.10 69.29,404.10 69.79,404.09 70.29,404.08 70.79,404.08 71.29,404.07 71.79,404.06 72.29,404.05 72.79,404.05 73.29,404.04 73.79,404.03 74.29,404.03 74.79,404.02 75.29,404.01 75.79,404.01 76.29,404.00 76.79,403.99 77.29,403.99 77.79,403.98 78.29,403.97 78.79,403.97 79.29,403.96 79.79,403.96 80.29,403.95 80.79,403.95 81.29,403.94 81.79,403.94 82.29,403.93 82.79,403.93 83.29,403.92 83.79,403.92 84.29,403.92 84.79,403.91 85.30,403.91 85.80,403.91 86.30,403.91 86.80,403.90 87.30,403.90 87.80,403.90 88.30,403.90 88.80,403.90 89.30,403.90 89.80,403.90 90.30,403.90 90.80,403.90 91.30,403.89 91.80,403.89 92.30,403.89 92.80,403.88 93.30,403.88 93.80,403.87 94.30,403.86 94.80,403.85 95.30,403.84 95.80,403.82 96.30,403.81 96.80,403.79 97.30,403.77 97.80,403.74 98.30,403.72 98.80,403.69 99.30,403.65 99.80,403.62 100.29,403.58 100.79,403.53 101.29,403.48 101.78,403.43 102.28,403.38 102.78,403.32 103.27,403.27 103.77,403.20 104.27,403.14 104.76,403.08 105.26,403.01 105.75,402.94 106.25,402.87 106.74,402.80 107.24,402.72 107.73,402.65 108.23,402.57 108.72,402.50 109.22,402.42 109.71,402.34 110.21,402.27 110.70,402.19 111.20,402.11 111.69,402.04 112.19,401.96 112.68,401.88 113.17,401.80 113.67,401.72 114.16,401.64 114.65,401.56 115.15,401.48 115.64,401.40 116.13,401.31 116.63,401.23 117.12,401.14 117.61,401.05 118.10,400.96 118.59,400.87 119.08,400.78 119.58,400.68 120.07,400.59 120.56,400.49 121.04,400.39 121.53,400.28 122.02,400.18 122.51,400.07 123.00,399.96 123.49,399.85 123.97,399.74 124.46,399.62 124.95,399.51 125.43,399.39 125.92,399.27 126.40,399.15 126.89,399.03 127.37,398.90 127.86,398.78 128.34,398.65 128.82,398.52 129.31,398.39 129.79,398.26 130.27,398.12 130.76,397.99 131.24,397.85 131.72,397.72 132.20,397.58 132.68,397.44 133.16,397.30 133.64,397.17 134.13,397.03 134.61,396.89 135.09,396.75 135.57,396.61 136.05,396.47 136.53,396.33 137.01,396.19 137.49,396.05 137.97,395.92 138.46,395.78 138.94,395.65 139.42,395.51 139.90,395.38 140.38,395.25 140.87,395.12 141.35,394.99 141.83,394.87 142.32,394.74 142.80,394.62 143.29,394.50 143.77,394.38 144.26,394.27 144.74,394.16 145.23,394.05 145.72,393.94 146.21,393.84 146.70,393.74 147.19,393.64 147.68,393.55 148.17,393.46 148.66,393.37 149.15,393.28 149.64,393.20 150.14,393.11 150.63,393.03 151.12,392.95 151.62,392.86 152.11,392.78 152.61,392.70 153.10,392.61 153.60,392.53 154.09,392.43 154.58,392.33 155.07,392.23 155.56,392.11 156.04,391.99 156.52,391.85 157.00,391.70 157.47,391.54 157.94,391.36 158.40,391.17 158.85,390.96 159.30,390.75 159.75,390.51 160.19,390.27 160.62,390.02 161.05,389.75 161.47,389.48 161.89,389.19 162.30,388.90 162.70,388.60 163.10,388.29 163.49,387.97 163.87,387.65 164.25,387.31 164.61,386.97 164.97,386.62 165.32,386.26 165.66,385.90 165.98,385.52 166.30,385.13 166.61,384.74 166.91,384.34 167.20,383.93 167.49,383.53 167.78,383.11 168.06,382.70 168.34,382.29 168.63,381.88 168.92,381.47 169.20,381.06 169.49,380.65 169.78,380.24 170.06,379.83 170.35,379.42 170.64,379.01 170.93,378.60 171.21,378.20 171.50,377.78 171.79,377.37 172.07,376.96 172.35,376.55 172.63,376.13 172.91,375.72 173.18,375.30 173.45,374.87 173.71,374.45 173.97,374.02 174.22,373.59 174.47,373.16 174.71,372.72 174.95,372.28 175.18,371.84 175.41,371.39 175.64,370.95 175.86,370.50 176.07,370.05 176.29,369.59 176.50,369.14 176.71,368.69 176.91,368.23 177.12,367.77 177.32,367.31 177.52,366.85 177.72,366.40 177.92,365.94 178.11,365.48 178.31,365.02 178.50,364.55 178.70,364.09 178.88,363.63 179.07,363.17 179.26,362.70 179.44,362.24 179.62,361.77 179.80,361.30 179.97,360.83 180.14,360.36 180.31,359.89 180.47,359.42 180.63,358.95 180.79,358.47 180.95,358.00 181.10,357.52 181.24,357.04 181.39,356.56 181.52,356.08 181.66,355.60 181.79,355.12 181.92,354.63 182.04,354.15 182.16,353.66 182.28,353.17 182.39,352.69 182.50,352.20 182.60,351.71 182.71,351.22 182.81,350.73 182.91,350.24 183.01,349.75 183.12,349.26 183.22,348.77 183.33,348.29 183.44,347.80 183.55,347.31 183.67,346.83 183.79,346.34 183.92,345.86 184.05,345.37 184.18,344.89 184.32,344.41 184.45,343.93 184.59,343.45 184.72,342.97 184.86,342.48 184.99,342.00 185.12,341.52 185.25,341.04 185.37,340.55 185.48,340.07 185.59,339.58 185.70,339.09 185.80,338.60 185.89,338.11 185.98,337.62 186.06,337.13 186.14,336.63 186.22,336.14 186.29,335.64 186.36,335.15 186.43,334.65 186.49,334.16 186.56,333.66 186.62,333.16 186.68,332.67 186.74,332.17 186.80,331.67 186.86,331.17 186.92,330.68 186.98,330.18 187.04,329.68 187.10,329.18 187.17,328.69 187.23,328.19 187.29,327.70 187.36,327.20 187.43,326.70 187.49,326.21 187.56,325.71 187.63,325.22 187.69,324.72 187.76,324.23 187.83,323.73 187.89,323.24 187.96,322.74 188.02,322.24 188.08,321.75 188.15,321.25 188.21,320.76 188.27,320.26 188.33,319.77 188.39,319.27 188.44,318.77 188.50,318.28 188.55,317.78 188.60,317.28 188.65,316.78 188.70,316.29 188.75,315.79 188.80,315.29 188.85,314.80 188.90,314.30 188.95,313.80 189.00,313.30 189.04,312.80 189.09,312.31 189.14,311.81 189.18,311.31 189.23,310.81 189.28,310.31 189.32,309.82 189.37,309.32 189.42,308.82 189.47,308.32 189.52,307.82 189.57,307.33 189.62,306.83 189.67,306.33 189.72,305.83 189.77,305.33 189.82,304.84 189.88,304.34 189.93,303.84 189.99,303.34 190.04,302.84 190.09,302.35 190.15,301.85 190.21,301.35 190.26,300.85 190.32,300.36 190.37,299.86 190.43,299.36 190.49,298.86 190.54,298.37 190.60,297.87 190.66,297.37 190.71,296.88 190.77,296.38 190.83,295.88 190.89,295.39 190.94,294.89 191.00,294.39 191.06,293.90 191.11,293.40 191.17,292.91 191.23,292.41 191.28,291.91 191.34,291.42 191.40,290.92 191.45,290.43 191.51,289.93 191.56,289.44 191.62,288.95 191.67,288.45 191.73,287.96 191.78,287.46 191.84,286.97 191.89,286.47 191.94,285.98 192.00,285.49 192.05,284.99 192.11,284.50 192.16,284.00 192.22,283.51 192.27,283.01 192.33,282.52 192.39,282.02 192.44,281.53 192.50,281.03 192.56,280.54 192.62,280.04 192.68,279.55 192.74,279.05 192.80,278.55 192.86,278.06 192.93,277.56 192.99,277.06 193.06,276.56 193.12,276.06 193.19,275.57 193.26,275.07 193.33,274.57 193.40,274.07 193.47,273.56 193.55,273.06 193.62,272.56 193.70,272.06 193.78,271.55 193.86,271.05 193.94,270.55 194.02,270.04 194.10,269.54 194.18,269.03 194.26,268.53 194.35,268.03 194.43,267.52 194.51,267.02 194.59,266.52 194.67,266.02 194.75,265.52 194.83,265.02 194.91,264.52 194.99,264.03 195.07,263.53 195.14,263.04 195.22,262.55 195.29,262.06 195.36,261.57 195.43,261.08 195.49,260.60 195.55,260.11 195.61,259.63 195.67,259.16 195.73,258.68 195.78,258.21 195.83,257.74 195.87,257.27 195.93,256.81 195.99,256.34 196.06,255.87 196.15,255.40 196.26,254.92 196.40,254.43 196.57,253.94 196.78,253.43 197.03,252.92 197.32,252.39 197.65,251.90 197.98,251.53 198.28,251.39 198.53,251.53 198.73,251.91 198.90,252.45 199.04,253.09 199.17,253.79 199.28,254.48 199.38,255.13 199.47,255.76 199.56,256.36 199.63,256.93 199.70,257.48 199.77,258.01 199.83,258.52 199.88,259.02 199.93,259.49 199.98,259.96 200.02,260.41 200.06,260.85 200.09,261.28 200.13,261.71 200.16,262.13 200.19,262.55 200.22,262.97 200.25,263.40 200.29,263.82 200.32,264.25 200.35,264.68 200.39,265.12 200.43,265.57 200.47,266.02 200.51,266.47 200.55,266.93 200.59,267.40 200.63,267.87 200.68,268.34 200.72,268.82 200.77,269.30 200.81,269.78 200.86,270.27 200.91,270.76 200.96,271.26 201.01,271.76 201.06,272.26 201.11,272.76 201.16,273.27 201.21,273.77 201.27,274.28 201.32,274.80 201.37,275.31 201.43,275.83 201.48,276.34 201.54,276.86 201.59,277.38 201.65,277.90 201.70,278.42 201.76,278.94 201.81,279.47 201.87,279.99 201.92,280.51 201.98,281.03 202.03,281.56 202.09,282.08 202.14,282.60 202.20,283.12 202.25,283.64 202.30,284.16 202.36,284.67 202.41,285.19 202.46,285.70 202.51,286.21 202.56,286.72 202.61,287.23 202.67,287.74 202.72,288.25 202.76,288.75 202.81,289.25 202.86,289.76 202.91,290.26 202.96,290.76 203.01,291.26 203.06,291.76 203.10,292.25 203.15,292.75 203.20,293.25 203.25,293.74 203.29,294.24 203.34,294.73 203.39,295.22 203.43,295.72 203.48,296.21 203.53,296.70 203.57,297.19 203.62,297.69 203.67,298.18 203.71,298.67 203.76,299.16 203.81,299.65 203.85,300.14 203.90,300.63 203.95,301.13 204.00,301.62 204.04,302.11 204.09,302.60 204.14,303.10 204.19,303.59 204.24,304.08 204.28,304.58 204.33,305.07 204.38,305.57 204.43,306.06 204.48,306.56 204.53,307.06 204.58,307.55 204.63,308.05 204.68,308.55 204.73,309.04 204.78,309.54 204.83,310.04 204.88,310.54 204.94,311.03 204.99,311.53 205.04,312.03 205.09,312.53 205.14,313.03 205.19,313.53 205.24,314.03 205.30,314.52 205.35,315.02 205.40,315.52 205.45,316.02 205.50,316.52 205.56,317.02 205.61,317.52 205.66,318.02 205.71,318.52 205.77,319.01 205.82,319.51 205.87,320.01 205.92,320.51 205.97,321.01 206.03,321.51 206.08,322.01 206.13,322.50 206.18,323.00 206.24,323.50 206.29,324.00 206.34,324.49 206.39,324.99 206.44,325.49 206.50,325.99 206.55,326.48 206.60,326.98 206.65,327.48 206.70,327.98 206.75,328.47 206.81,328.97 206.86,329.47 206.91,329.97 206.96,330.46 207.01,330.96 207.06,331.46 207.11,331.95 207.16,332.45 207.21,332.95 207.26,333.44 207.31,333.94 207.36,334.44 207.41,334.94 207.46,335.43 207.51,335.93 207.56,336.43 207.61,336.92 207.65,337.42 207.70,337.92 207.75,338.42 207.80,338.91 207.84,339.41 207.89,339.91 207.94,340.41 207.99,340.90 208.03,341.40 208.08,341.90 208.13,342.40 208.17,342.89 208.22,343.39 208.27,343.89 208.31,344.39 208.36,344.89 208.41,345.38 208.45,345.88 208.50,346.38 208.55,346.88 208.60,347.38 208.64,347.87 208.69,348.37 208.74,348.87 208.79,349.37 208.84,349.86 208.88,350.36 208.93,350.86 208.98,351.36 209.03,351.86 209.08,352.35 209.13,352.85 209.18,353.35 209.24,353.85 209.29,354.34 209.34,354.84 209.39,355.34 209.45,355.83 209.50,356.33 209.56,356.83 209.61,357.33 209.67,357.82 209.72,358.32 209.78,358.82 209.84,359.31 209.89,359.81 209.95,360.31 210.01,360.80 210.07,361.30 210.13,361.80 210.19,362.29 210.25,362.79 210.32,363.28 210.38,363.78 210.44,364.28 210.50,364.77 210.57,365.27 210.63,365.76 210.70,366.26 210.76,366.76 210.83,367.25 210.89,367.75 210.96,368.24 211.03,368.74 211.09,369.23 211.16,369.73 211.23,370.22 211.30,370.72 211.37,371.21 211.44,371.71 211.51,372.20 211.58,372.70 211.65,373.19 211.72,373.69 211.80,374.18 211.87,374.68 211.94,375.17 212.01,375.67 212.09,376.16 212.16,376.66 212.23,377.15 212.31,377.65 212.38,378.14 212.45,378.64 212.53,379.13 212.60,379.62 212.68,380.12 212.75,380.61 212.83,381.11 212.91,381.60 212.98,382.09 213.06,382.59 213.14,383.08 213.22,383.58 213.30,384.07 213.38,384.56 213.46,385.06 213.54,385.55 213.63,386.04 213.71,386.54 213.80,387.03 213.88,387.52 213.97,388.01 214.06,388.50 214.15,389.00 214.25,389.49 214.34,389.98 214.44,390.47 214.53,390.96 214.63,391.45 214.73,391.94 214.83,392.43 214.94,392.92 215.05,393.41 215.16,393.90 215.27,394.39 215.38,394.87 215.50,395.36 215.62,395.85 215.75,396.33 215.88,396.81 216.01,397.30 216.15,397.78 216.28,398.26 216.43,398.74 216.58,399.21 216.73,399.69 216.89,400.16 217.05,400.64 217.22,401.11 217.39,401.58 217.57,402.04 217.75,402.51 217.95,402.97 218.14,403.43 218.35,403.88 218.57,404.34 218.79,404.79 219.02,405.23 219.26,405.67 219.51,406.11 219.77,406.55 220.04,406.98 220.31,407.40 220.60,407.82 220.91,408.23 221.22,408.63 221.54,409.02 221.88,409.39 222.22,409.75 222.59,410.10 222.96,410.43 223.35,410.74 223.75,411.03 224.16,411.30 224.59,411.56 225.03,411.79 225.48,412.01 225.94,412.21 226.41,412.40 226.88,412.57 227.36,412.73 227.85,412.88 228.33,413.02 228.82,413.15 229.31,413.28 229.81,413.40 230.30,413.51 230.79,413.62 231.28,413.72 231.77,413.81 232.27,413.90 232.76,413.98 233.25,414.06 233.75,414.14 234.24,414.20 234.74,414.27 235.23,414.33 235.73,414.38 236.22,414.43 236.72,414.48 237.21,414.52 237.71,414.56 238.21,414.59 238.70,414.62 239.20,414.65 239.70,414.67 240.20,414.70 240.69,414.72 241.19,414.73 241.69,414.75 242.19,414.76 242.69,414.77 243.19,414.78 243.69,414.78 244.19,414.79 244.68,414.79 245.18,414.80 245.68,414.80 246.18,414.80 246.68,414.80 247.18,414.80 247.68,414.80 248.19,414.80 248.69,414.80 249.19,414.80 249.69,414.80 250.19,414.80 250.69,414.80 251.19,414.81 251.69,414.81 252.19,414.82 252.69,414.82 253.19,414.83 253.69,414.84 254.20,414.85 254.70,414.87 255.20,414.89 255.70,414.90 256.20,414.93 256.70,414.95 257.20,414.98 257.70,415.01 258.20,415.05 258.70,415.08 259.20,415.13 259.70,415.17" fill="none" stroke="#8a8aff" stroke-width="1.1" stroke-linejoin="round" stroke-opacity="1.0"/>
<rect x="9.3" y="236.4" width="251.09999999999997" height="181.20000000000002" fill="none" stroke="#8c8c8c" stroke-width="1.1"/>
<line x1="62.3" y1="417.6" x2="62.3" y2="420.6" stroke="#8c8c8c" stroke-width="1"/>
<text x="62.7" y="432.6" font-family="'Liberation Sans', Arial, sans-serif" font-size="8.4" font-weight="bold" text-anchor="middle" fill="#000" stroke="#000" stroke-width="0.25" textLength="14.55" lengthAdjust="spacingAndGlyphs">295</text>
<line x1="128.5" y1="417.6" x2="128.5" y2="420.6" stroke="#8c8c8c" stroke-width="1"/>
<text x="128.9" y="432.6" font-family="'Liberation Sans', Arial, sans-serif" font-size="8.4" font-weight="bold" text-anchor="middle" fill="#000" stroke="#000" stroke-width="0.25" textLength="14.55" lengthAdjust="spacingAndGlyphs">290</text>
<line x1="194.7" y1="417.6" x2="194.7" y2="420.6" stroke="#8c8c8c" stroke-width="1"/>
<text x="195.1" y="432.6" font-family="'Liberation Sans', Arial, sans-serif" font-size="8.4" font-weight="bold" text-anchor="middle" fill="#000" stroke="#000" stroke-width="0.25" textLength="14.55" lengthAdjust="spacingAndGlyphs">285</text>
<line x1="260.9" y1="417.6" x2="260.9" y2="420.6" stroke="#8c8c8c" stroke-width="1"/>
<text x="261.3" y="432.6" font-family="'Liberation Sans', Arial, sans-serif" font-size="8.4" font-weight="bold" text-anchor="middle" fill="#000" stroke="#000" stroke-width="0.25" textLength="14.55" lengthAdjust="spacingAndGlyphs">280</text>
<text x="88.2" y="450.0" font-family="'Liberation Sans', Arial, sans-serif" font-size="9.9" font-weight="bold" text-anchor="start" fill="#000" stroke="#000" stroke-width="0.25" textLength="94.1" lengthAdjust="spacingAndGlyphs">Binding Energy (eV)</text>
<line x1="20.6" y1="254.1" x2="39.8" y2="254.1" stroke="#ff9a9a" stroke-width="1.4"/>
<line x1="20.6" y1="264.8" x2="39.8" y2="264.8" stroke="#a4a4ff" stroke-width="1.4"/>
<text x="43.7" y="257.4" font-family="'Liberation Sans', Arial, sans-serif" font-size="8.4" font-weight="bold" text-anchor="start" fill="#000" stroke="#000" stroke-width="0.25" textLength="91.6" lengthAdjust="spacingAndGlyphs">C1s before adsorption</text>
<text x="43.7" y="268.09999999999997" font-family="'Liberation Sans', Arial, sans-serif" font-size="8.4" font-weight="bold" text-anchor="start" fill="#000" stroke="#000" stroke-width="0.25" textLength="83.6" lengthAdjust="spacingAndGlyphs">C1s after adsorption</text>
<text x="234.4" y="255.2" font-family="'Liberation Sans', Arial, sans-serif" font-size="16.6" font-weight="bold" text-anchor="start" fill="#000" stroke="#000" stroke-width="0.25" textLength="20.8" lengthAdjust="spacingAndGlyphs">(C)</text>
<text x="184.2" y="249.3" font-family="'Liberation Sans', Arial, sans-serif" font-size="14.8" font-weight="normal" text-anchor="start" fill="#000" textLength="28.1" lengthAdjust="spacingAndGlyphs">C-C</text>
<text x="71.7" y="393.4" font-family="'Liberation Sans', Arial, sans-serif" font-size="14.8" font-weight="normal" text-anchor="start" fill="#000" textLength="27.1" lengthAdjust="spacingAndGlyphs">π-π</text>
<polyline points="283.40,383.02 285.00,378.93 286.60,381.03 288.20,376.02 289.80,382.85 291.40,376.56 293.00,378.61 294.60,375.30 296.20,384.22 297.80,378.83 299.40,382.71 301.00,375.85 302.60,382.12 304.20,376.89 305.80,381.65 307.40,383.62 309.00,382.07 310.60,377.30 312.20,380.25 313.80,378.50 315.40,383.77 317.00,377.16 318.60,376.99 320.20,376.68 321.80,381.77 323.40,377.91 325.00,383.15 326.60,378.34 328.20,383.02 329.80,375.69 331.40,383.52 333.00,382.11 334.60,382.64 336.20,378.88 337.80,381.44 339.40,380.69 341.00,379.51 342.60,377.74 344.20,382.67 345.80,378.51 347.40,379.74 349.00,378.09 350.60,380.59 352.20,378.02 353.80,380.49 355.40,374.37 357.00,380.34 358.60,377.96 360.20,378.19 361.80,376.18 363.40,380.58 365.00,372.89 366.60,378.63 368.20,372.11 369.80,379.38 371.40,376.89 373.00,380.16 374.60,371.06 376.20,374.98 377.80,367.62 379.40,368.71 381.00,367.51 382.60,362.97 384.20,363.64 385.80,362.66 387.40,361.17 389.00,359.34 390.60,351.61 392.20,353.64 393.80,344.67 395.40,341.99 397.00,336.76 398.60,334.79 400.20,325.69 401.80,328.86 403.40,318.61 405.00,316.66 406.60,309.70 408.20,313.04 409.80,305.06 411.40,306.66 413.00,303.21 414.60,310.48 416.20,306.05 417.80,317.22 419.40,312.15 421.00,316.39 422.60,321.77 424.20,327.20 425.80,327.96 427.40,341.32 429.00,346.12 430.60,356.08 432.20,354.75 433.80,363.81 435.40,362.76 437.00,366.94 438.60,369.30 440.20,374.58 441.80,371.50 443.40,377.57 445.00,374.92 446.60,379.64 448.20,375.39 449.80,378.80 451.40,378.79 453.00,379.50 454.60,378.29 456.20,382.21 457.80,377.24 459.40,385.02 461.00,375.54 462.60,380.69 464.20,375.77 465.80,383.71 467.40,379.19 469.00,375.20 470.60,373.10 472.20,380.30 473.80,377.06 475.40,378.98 477.00,374.60 478.60,379.45 480.20,375.41 481.80,376.50 483.40,376.02 485.00,372.26 486.60,374.46 488.20,374.55 489.80,373.91 491.40,375.19 493.00,370.73 494.60,376.47 496.20,369.46 497.80,373.80 499.40,368.73 501.00,375.71 502.60,372.83 504.20,378.08 505.80,371.93 507.40,376.62 509.00,371.26 510.60,374.66 512.20,372.37 513.80,377.57 515.40,371.20 517.00,374.07 518.60,371.12 520.20,374.76 521.80,369.41 523.40,378.24 525.00,371.74 526.60,375.89 528.20,370.00 529.80,376.51 531.40,374.02 533.00,375.21 534.60,377.31" fill="none" stroke="#ff5a5a" stroke-width="1.0" stroke-linejoin="round" stroke-opacity="1.0"/>
<polyline points="283.40,371.57 285.00,368.88 286.60,372.85 288.20,371.30 289.80,370.52 291.40,366.87 293.00,369.52 294.60,367.03 296.20,372.26 297.80,368.32 299.40,369.03 301.00,366.83 302.60,370.97 304.20,369.41 305.80,370.27 307.40,368.23 309.00,367.39 310.60,366.04 312.20,374.90 313.80,362.61 315.40,370.30 317.00,367.73 318.60,369.79 320.20,366.05 321.80,370.95 323.40,368.20 325.00,371.63 326.60,363.64 328.20,370.28 329.80,366.55 331.40,370.77 333.00,367.49 334.60,372.83 336.20,369.11 337.80,371.29 339.40,369.46 341.00,374.07 342.60,370.89 344.20,374.06 345.80,367.65 347.40,372.00 349.00,370.23 350.60,368.70 352.20,369.55 353.80,370.95 355.40,367.66 357.00,368.74 358.60,367.01 360.20,371.94 361.80,369.76 363.40,373.55 365.00,368.60 366.60,370.94 368.20,365.91 369.80,371.52 371.40,368.03 373.00,372.16 374.60,371.47 376.20,371.18 377.80,363.58 379.40,369.45 381.00,363.23 382.60,367.65 384.20,369.13 385.80,369.92 387.40,361.65 389.00,370.00 390.60,366.99 392.20,368.28 393.80,364.25 395.40,368.29 397.00,364.92 398.60,367.16 400.20,363.78 401.80,364.25 403.40,359.15 405.00,360.67 406.60,354.69 408.20,352.78 409.80,350.29 411.40,354.81 413.00,348.57 414.60,354.61 416.20,348.66 417.80,349.26 419.40,348.15 421.00,351.38 422.60,350.61 424.20,357.91 425.80,355.64 427.40,359.67 429.00,351.42 430.60,360.39 432.20,359.78 433.80,363.53 435.40,364.56 437.00,370.22 438.60,365.12 440.20,368.37 441.80,371.13 443.40,369.07 445.00,364.04 446.60,370.68 448.20,367.65 449.80,370.41 451.40,369.24 453.00,370.32 454.60,366.86 456.20,371.25 457.80,370.54 459.40,370.15 461.00,369.14 462.60,372.25 464.20,373.83 465.80,371.04 467.40,370.48 469.00,370.66 470.60,367.59 472.20,372.04 473.80,370.36 475.40,374.35 477.00,368.47 478.60,369.02 480.20,366.95 481.80,371.86 483.40,368.29 485.00,372.20 486.60,367.21 488.20,371.66 489.80,368.97 491.40,369.96 493.00,363.06 494.60,366.86 496.20,362.54 497.80,373.01 499.40,363.14 501.00,370.25 502.60,366.16 504.20,371.06 505.80,367.21 507.40,366.83 509.00,364.00 510.60,368.07 512.20,363.35 513.80,366.20 515.40,362.63 517.00,369.18 518.60,359.63 520.20,366.60 521.80,361.37 523.40,366.43 525.00,364.02 526.60,365.35 528.20,364.85 529.80,363.13 531.40,364.94 533.00,365.60 534.60,364.15" fill="none" stroke="#5a5aff" stroke-width="1.0" stroke-linejoin="round" stroke-opacity="1.0"/>
<rect x="283.4" y="236.4" width="251.39999999999998" height="181.29999999999998" fill="none" stroke="#8c8c8c" stroke-width="1.1"/>
<line x1="336.0" y1="417.7" x2="336.0" y2="420.7" stroke="#8c8c8c" stroke-width="1"/>
<text x="336.4" y="432.5" font-family="'Liberation Sans', Arial, sans-serif" font-size="8.4" font-weight="bold" text-anchor="middle" fill="#000" stroke="#000" stroke-width="0.25" textLength="14.55" lengthAdjust="spacingAndGlyphs">140</text>
<line x1="402.2" y1="417.7" x2="402.2" y2="420.7" stroke="#8c8c8c" stroke-width="1"/>
<text x="402.6" y="432.5" font-family="'Liberation Sans', Arial, sans-serif" font-size="8.4" font-weight="bold" text-anchor="middle" fill="#000" stroke="#000" stroke-width="0.25" textLength="14.55" lengthAdjust="spacingAndGlyphs">135</text>
<line x1="468.4" y1="417.7" x2="468.4" y2="420.7" stroke="#8c8c8c" stroke-width="1"/>
<text x="468.8" y="432.5" font-family="'Liberation Sans', Arial, sans-serif" font-size="8.4" font-weight="bold" text-anchor="middle" fill="#000" stroke="#000" stroke-width="0.25" textLength="14.55" lengthAdjust="spacingAndGlyphs">130</text>
<line x1="534.6" y1="417.7" x2="534.6" y2="420.7" stroke="#8c8c8c" stroke-width="1"/>
<text x="535.0" y="432.5" font-family="'Liberation Sans', Arial, sans-serif" font-size="8.4" font-weight="bold" text-anchor="middle" fill="#000" stroke="#000" stroke-width="0.25" textLength="14.55" lengthAdjust="spacingAndGlyphs">125</text>
<text x="362.7" y="450.0" font-family="'Liberation Sans', Arial, sans-serif" font-size="9.9" font-weight="bold" text-anchor="start" fill="#000" stroke="#000" stroke-width="0.25" textLength="94.1" lengthAdjust="spacingAndGlyphs">Binding Energy (eV)</text>
<line x1="294" y1="252.4" x2="313.2" y2="252.4" stroke="#ff8080" stroke-width="1.4"/>
<line x1="294" y1="263.4" x2="313.2" y2="263.4" stroke="#9090ff" stroke-width="1.4"/>
<text x="317.7" y="255.7" font-family="'Liberation Sans', Arial, sans-serif" font-size="8.4" font-weight="bold" text-anchor="start" fill="#000" stroke="#000" stroke-width="0.25" textLength="90.6" lengthAdjust="spacingAndGlyphs">P2p before adsorption</text>
<text x="317.7" y="266.7" font-family="'Liberation Sans', Arial, sans-serif" font-size="8.4" font-weight="bold" text-anchor="start" fill="#000" stroke="#000" stroke-width="0.25" textLength="82.6" lengthAdjust="spacingAndGlyphs">P2p after adsorption</text>
<text x="507.4" y="255.5" font-family="'Liberation Sans', Arial, sans-serif" font-size="16.6" font-weight="bold" text-anchor="start" fill="#000" stroke="#000" stroke-width="0.25" textLength="22.6" lengthAdjust="spacingAndGlyphs">(D)</text>
<polygon points="411.00,317.00 414.60,317.00 414.60,335.80 418.20,335.80 412.80,346.30 407.40,335.80 411.00,335.80" fill="#1f6fc9"/>
<polyline points="8.90,585.46 11.00,589.78 13.10,588.25 15.20,589.32 17.30,591.54 19.40,583.46 21.50,590.11 23.60,583.77 25.70,590.65 27.80,586.29 29.90,591.24 32.00,580.98 34.10,587.34 36.20,585.55 38.30,587.58 40.40,586.98 42.50,597.91 44.60,586.08 46.70,587.80 48.80,580.97 50.90,584.18 53.00,576.58 55.10,582.71 57.20,578.52 59.30,584.29 61.40,580.80 63.50,584.58 65.60,579.99 67.70,582.88 69.80,585.51 71.90,587.76 74.00,588.18 76.10,591.85 78.20,588.88 80.30,588.38 82.40,587.09 84.50,598.87 86.60,577.49 88.70,592.52 90.80,589.30 92.90,588.48 95.00,583.71 97.10,588.02 99.20,573.44 101.30,582.72 103.40,569.71 105.50,573.44 107.60,565.62 109.70,570.99 111.80,562.96 113.90,570.73 116.00,559.40 118.10,580.35 120.20,575.45 122.30,581.74 124.40,571.51 126.50,579.65 128.60,571.27 130.70,574.13 132.80,561.61 134.90,574.99 137.00,575.36 139.10,563.96 141.20,568.76 143.30,573.88 145.40,566.63 147.50,576.25 149.60,562.21 151.70,574.22 153.80,571.50 155.90,568.40 158.00,562.31 160.10,570.02 162.20,561.79 164.30,574.84 166.40,558.83 168.50,570.63 170.60,556.09 172.70,568.17 174.80,556.98 176.90,551.88 179.00,551.45 181.10,552.69 183.20,549.87 185.30,560.79 187.40,540.54 189.50,542.75 191.60,543.02 193.70,543.97 195.80,541.15 197.90,539.30 200.00,524.77 202.10,529.29 204.20,524.99 206.30,524.82 208.40,513.54 210.50,515.94 212.60,506.99 214.70,509.79 216.80,514.54 218.90,512.39 221.00,502.19 223.10,509.08 225.20,508.51 227.30,515.27 229.40,508.03 231.50,517.79 233.60,516.03 235.70,520.80 237.80,519.31 239.90,535.66 242.00,528.53 244.10,541.26 246.20,541.24 248.30,546.64 250.40,542.07 252.50,560.75 254.60,552.35 256.70,556.50 258.80,553.72" fill="none" stroke="#ff5a5a" stroke-width="1.0" stroke-linejoin="round" stroke-opacity="1.0"/>
<polyline points="8.90,610.93 11.00,602.95 13.10,603.90 15.20,604.54 17.30,609.20 19.40,598.76 21.50,602.61 23.60,597.15 25.70,612.11 27.80,593.19 29.90,608.53 32.00,600.02 34.10,604.34 36.20,587.94 38.30,603.19 40.40,600.79 42.50,601.12 44.60,595.93 46.70,591.68 48.80,597.57 50.90,596.63 53.00,594.28 55.10,589.51 57.20,592.31 59.30,595.52 61.40,592.61 63.50,594.51 65.60,587.68 67.70,608.02 69.80,585.48 71.90,593.14 74.00,587.38 76.10,593.95 78.20,597.59 80.30,607.92 82.40,585.93 84.50,589.63 86.60,591.24 88.70,597.14 90.80,588.25 92.90,597.14 95.00,575.61 97.10,587.58 99.20,572.38 101.30,580.41 103.40,585.59 105.50,586.97 107.60,589.39 109.70,587.91 111.80,571.68 113.90,585.91 116.00,582.42 118.10,584.62 120.20,568.65 122.30,584.66 124.40,581.28 126.50,580.36 128.60,572.41 130.70,588.53 132.80,578.28 134.90,577.38 137.00,569.39 139.10,574.62 141.20,572.12 143.30,583.45 145.40,584.19 147.50,588.56 149.60,568.39 151.70,586.90 153.80,577.72 155.90,584.20 158.00,580.75 160.10,583.94 162.20,573.08 164.30,588.05 166.40,565.68 168.50,566.87 170.60,571.07 172.70,571.00 174.80,568.09 176.90,569.29 179.00,559.24 181.10,567.68 183.20,566.68 185.30,577.96 187.40,551.40 189.50,566.48 191.60,546.80 193.70,550.44 195.80,550.37 197.90,561.00 200.00,545.48 202.10,566.20 204.20,540.45 206.30,551.81 208.40,545.38 210.50,557.54 212.60,545.31 214.70,560.06 216.80,545.87 218.90,558.92 221.00,542.59 223.10,548.73 225.20,545.89 227.30,545.75 229.40,531.13 231.50,552.31 233.60,538.44 235.70,545.84 237.80,546.87 239.90,547.56 242.00,549.42 244.10,556.89 246.20,539.79 248.30,554.82 250.40,552.68 252.50,559.42 254.60,545.38 256.70,558.85 258.80,541.40" fill="none" stroke="#5a5aff" stroke-width="1.0" stroke-linejoin="round" stroke-opacity="1.0"/>
<rect x="8.6" y="460.9" width="252.00000000000003" height="181.5" fill="none" stroke="#8c8c8c" stroke-width="1.1"/>
<line x1="8.9" y1="642.4" x2="8.9" y2="645.4" stroke="#8c8c8c" stroke-width="1"/>
<text x="9.3" y="657.4" font-family="'Liberation Sans', Arial, sans-serif" font-size="8.4" font-weight="bold" text-anchor="middle" fill="#000" stroke="#000" stroke-width="0.25" textLength="14.55" lengthAdjust="spacingAndGlyphs">395</text>
<line x1="71.9" y1="642.4" x2="71.9" y2="645.4" stroke="#8c8c8c" stroke-width="1"/>
<text x="72.3" y="657.4" font-family="'Liberation Sans', Arial, sans-serif" font-size="8.4" font-weight="bold" text-anchor="middle" fill="#000" stroke="#000" stroke-width="0.25" textLength="14.55" lengthAdjust="spacingAndGlyphs">390</text>
<line x1="134.9" y1="642.4" x2="134.9" y2="645.4" stroke="#8c8c8c" stroke-width="1"/>
<text x="135.3" y="657.4" font-family="'Liberation Sans', Arial, sans-serif" font-size="8.4" font-weight="bold" text-anchor="middle" fill="#000" stroke="#000" stroke-width="0.25" textLength="14.55" lengthAdjust="spacingAndGlyphs">385</text>
<line x1="197.9" y1="642.4" x2="197.9" y2="645.4" stroke="#8c8c8c" stroke-width="1"/>
<text x="198.3" y="657.4" font-family="'Liberation Sans', Arial, sans-serif" font-size="8.4" font-weight="bold" text-anchor="middle" fill="#000" stroke="#000" stroke-width="0.25" textLength="14.55" lengthAdjust="spacingAndGlyphs">380</text>
<line x1="260.9" y1="642.4" x2="260.9" y2="645.4" stroke="#8c8c8c" stroke-width="1"/>
<text x="261.3" y="657.4" font-family="'Liberation Sans', Arial, sans-serif" font-size="8.4" font-weight="bold" text-anchor="middle" fill="#000" stroke="#000" stroke-width="0.25" textLength="14.55" lengthAdjust="spacingAndGlyphs">375</text>
<text x="88.2" y="674.7" font-family="'Liberation Sans', Arial, sans-serif" font-size="9.9" font-weight="bold" text-anchor="start" fill="#000" stroke="#000" stroke-width="0.25" textLength="94.1" lengthAdjust="spacingAndGlyphs">Binding Energy (eV)</text>
<line x1="18.4" y1="475.5" x2="38.0" y2="475.5" stroke="#ff8080" stroke-width="1.4"/>
<line x1="18.4" y1="486.5" x2="38.0" y2="486.5" stroke="#7272ff" stroke-width="1.4"/>
<text x="41.7" y="478.1" font-family="'Liberation Sans', Arial, sans-serif" font-size="8.4" font-weight="bold" text-anchor="start" fill="#000" stroke="#000" stroke-width="0.25" textLength="91.6" lengthAdjust="spacingAndGlyphs">K2s before adsorption</text>
<text x="41.7" y="489.1" font-family="'Liberation Sans', Arial, sans-serif" font-size="8.4" font-weight="bold" text-anchor="start" fill="#000" stroke="#000" stroke-width="0.25" textLength="83.6" lengthAdjust="spacingAndGlyphs">K2s after adsorption</text>
<text x="234.4" y="479.8" font-family="'Liberation Sans', Arial, sans-serif" font-size="16.6" font-weight="bold" text-anchor="start" fill="#000" stroke="#000" stroke-width="0.25" textLength="19.0" lengthAdjust="spacingAndGlyphs">(E)</text>
<polygon points="216.95,517.10 220.65,517.10 220.65,535.40 224.00,535.40 218.80,546.00 213.60,535.40 216.95,535.40" fill="#1f6fc9"/>
<polyline points="283.50,498.51 284.90,500.02 286.30,503.40 287.70,506.03 289.10,509.01 290.50,510.98 291.90,517.15 293.30,518.27 294.70,520.73 296.10,522.70 297.50,526.75 298.90,527.98 300.30,532.85 301.70,537.08 303.10,541.33 304.50,542.47 305.90,546.10 307.30,547.30 308.70,549.97 310.10,550.89 311.50,555.39 312.90,556.39 314.30,560.13 315.70,562.89 317.10,564.68 318.50,566.63 319.90,570.80 321.30,572.51 322.70,573.50 324.10,573.77 325.50,574.73 326.90,576.64 328.30,577.49 329.70,576.97 331.10,581.39 332.50,585.64 333.90,588.02 335.30,589.04 336.70,590.59 338.10,590.53 339.50,594.22 340.90,594.86 342.30,599.31 343.70,600.45 345.10,604.34 346.50,603.35 347.90,603.57 349.30,604.13 350.70,606.35 352.10,605.47 353.50,607.49 354.90,608.59 356.30,611.90 357.70,612.46 359.10,614.82 360.50,617.33 361.90,619.58 363.30,621.08 364.70,622.85 366.10,623.04 367.50,624.70 368.90,623.04 370.30,624.90 371.70,626.17 373.10,628.27 374.50,628.80 375.90,629.25 377.30,630.02 378.70,630.84 380.10,629.89 381.50,630.01 382.90,630.37 384.30,633.59 385.70,634.22 387.10,635.29 388.50,635.42 389.90,635.55 391.30,634.91 392.70,635.77 394.10,635.12 395.50,634.94 396.90,635.36 398.30,636.38 399.70,633.93 401.10,634.48 402.50,634.52 403.90,634.03 405.30,631.85 406.70,633.76 408.10,631.84 409.50,631.16 410.90,631.12 412.30,629.32 413.70,626.65 415.10,626.85 416.50,624.84 417.90,625.65 419.30,625.19 420.70,625.79 422.10,625.89 423.50,628.99 424.90,628.57 426.30,630.21 427.70,629.67 429.10,630.92 430.50,631.70 431.90,632.33 433.30,633.25 434.70,632.70 436.10,632.44 437.50,631.54 438.90,630.34 440.30,630.17 441.70,627.62 443.10,624.17 444.50,620.76 445.90,618.53 447.30,615.22 448.70,613.25 450.10,610.65 451.50,607.70 452.90,605.35 454.30,603.99 455.70,600.85 457.10,599.73 458.50,597.08 459.90,598.77 461.30,595.01 462.70,597.05 464.10,596.85 465.50,600.68 466.90,603.37 468.30,608.47 469.70,611.14 471.10,613.49 472.50,616.43 473.90,619.06 475.30,618.77 476.70,621.13 478.10,619.29 479.50,620.92 480.90,619.42 482.30,622.29 483.70,618.59 485.10,616.59 486.50,614.68 487.90,613.62 489.30,611.79 490.70,608.51 492.10,605.60 493.50,604.03 494.90,601.56 496.30,598.61 497.70,595.44 499.10,592.96 500.50,588.76 501.90,586.37 503.30,581.86 504.70,578.20 506.10,574.76 507.50,570.45 508.90,566.77 510.30,563.48 511.70,557.59 513.10,553.60 514.50,549.01 515.90,546.10 517.30,541.60 518.70,538.10 520.10,534.39 521.50,530.58 522.90,526.88 524.30,523.30 525.70,520.38 527.10,517.59 528.50,512.76 529.90,511.13 531.30,506.26 532.70,501.54" fill="none" stroke="#ff5a5a" stroke-width="1.0" stroke-linejoin="round" stroke-opacity="1.0"/>
<polyline points="283.50,487.78 284.90,490.27 286.30,493.96 287.70,495.09 289.10,496.71 290.50,497.19 291.90,499.37 293.30,505.24 294.70,509.19 296.10,514.01 297.50,519.57 298.90,521.72 300.30,525.39 301.70,526.38 303.10,529.47 304.50,531.68 305.90,535.98 307.30,538.95 308.70,544.64 310.10,544.94 311.50,547.54 312.90,548.07 314.30,551.55 315.70,552.04 317.10,553.77 318.50,554.30 319.90,558.85 321.30,560.71 322.70,562.71 324.10,564.63 325.50,566.31 326.90,568.04 328.30,572.32 329.70,572.33 331.10,573.74 332.50,573.89 333.90,578.13 335.30,578.22 336.70,580.84 338.10,581.19 339.50,583.07 340.90,584.03 342.30,588.26 343.70,589.33 345.10,591.72 346.50,591.67 347.90,593.83 349.30,594.77 350.70,596.26 352.10,598.42 353.50,600.81 354.90,602.95 356.30,604.24 357.70,603.75 359.10,604.96 360.50,603.57 361.90,607.52 363.30,610.25 364.70,613.07 366.10,612.87 367.50,614.14 368.90,613.53 370.30,615.50 371.70,615.77 373.10,616.08 374.50,616.19 375.90,617.31 377.30,619.55 378.70,621.34 380.10,621.15 381.50,622.05 382.90,623.18 384.30,624.52 385.70,625.04 387.10,626.95 388.50,627.70 389.90,628.90 391.30,629.31 392.70,630.24 394.10,629.36 395.50,630.43 396.90,629.95 398.30,631.63 399.70,630.42 401.10,631.87 402.50,630.86 403.90,630.73 405.30,631.83 406.70,631.45 408.10,631.68 409.50,632.57 410.90,630.71 412.30,632.30 413.70,632.25 415.10,632.88 416.50,632.12 417.90,634.48 419.30,633.21 420.70,634.67 422.10,633.59 423.50,634.54 424.90,633.50 426.30,634.56 427.70,634.31 429.10,634.81 430.50,633.94 431.90,635.27 433.30,636.64 434.70,637.97 436.10,636.69 437.50,636.88 438.90,636.55 440.30,638.02 441.70,634.11 443.10,633.38 444.50,631.08 445.90,629.16 447.30,629.22 448.70,629.08 450.10,629.16 451.50,627.78 452.90,625.80 454.30,626.05 455.70,624.80 457.10,624.07 458.50,622.44 459.90,621.69 461.30,620.62 462.70,620.65 464.10,619.88 465.50,619.43 466.90,618.56 468.30,620.32 469.70,619.84 471.10,621.17 472.50,619.82 473.90,620.32 475.30,619.75 476.70,619.69 478.10,617.91 479.50,617.04 480.90,613.59 482.30,611.99 483.70,609.89 485.10,608.35 486.50,607.24 487.90,606.19 489.30,602.79 490.70,602.90 492.10,600.45 493.50,598.04 494.90,595.69 496.30,593.42 497.70,587.59 499.10,586.33 500.50,582.20 501.90,579.45 503.30,575.25 504.70,571.48 506.10,566.77 507.50,563.66 508.90,558.87 510.30,556.13 511.70,550.44 513.10,546.81 514.50,542.46 515.90,537.78 517.30,531.92 518.70,525.75 520.10,520.59 521.50,516.96 522.90,511.87 524.30,508.10 525.70,504.40 527.10,500.94 528.50,496.48 529.90,493.91 531.30,490.22 532.70,487.52 534.10,484.63" fill="none" stroke="#5a5aff" stroke-width="1.0" stroke-linejoin="round" stroke-opacity="1.0"/>
<rect x="283.5" y="461.6" width="251.29999999999995" height="181.5" fill="none" stroke="#8c8c8c" stroke-width="1.1"/>
<line x1="283.8" y1="643.1" x2="283.8" y2="646.1" stroke="#8c8c8c" stroke-width="1"/>
<text x="284.2" y="658.1" font-family="'Liberation Sans', Arial, sans-serif" font-size="8.4" font-weight="bold" text-anchor="middle" fill="#000" stroke="#000" stroke-width="0.25" textLength="14.55" lengthAdjust="spacingAndGlyphs">306</text>
<line x1="311.7" y1="643.1" x2="311.7" y2="646.1" stroke="#8c8c8c" stroke-width="1"/>
<text x="312.1" y="658.1" font-family="'Liberation Sans', Arial, sans-serif" font-size="8.4" font-weight="bold" text-anchor="middle" fill="#000" stroke="#000" stroke-width="0.25" textLength="14.55" lengthAdjust="spacingAndGlyphs">304</text>
<line x1="339.6" y1="643.1" x2="339.6" y2="646.1" stroke="#8c8c8c" stroke-width="1"/>
<text x="340.0" y="658.1" font-family="'Liberation Sans', Arial, sans-serif" font-size="8.4" font-weight="bold" text-anchor="middle" fill="#000" stroke="#000" stroke-width="0.25" textLength="14.55" lengthAdjust="spacingAndGlyphs">302</text>
<line x1="367.5" y1="643.1" x2="367.5" y2="646.1" stroke="#8c8c8c" stroke-width="1"/>
<text x="367.9" y="658.1" font-family="'Liberation Sans', Arial, sans-serif" font-size="8.4" font-weight="bold" text-anchor="middle" fill="#000" stroke="#000" stroke-width="0.25" textLength="14.55" lengthAdjust="spacingAndGlyphs">300</text>
<line x1="395.4" y1="643.1" x2="395.4" y2="646.1" stroke="#8c8c8c" stroke-width="1"/>
<text x="395.8" y="658.1" font-family="'Liberation Sans', Arial, sans-serif" font-size="8.4" font-weight="bold" text-anchor="middle" fill="#000" stroke="#000" stroke-width="0.25" textLength="14.55" lengthAdjust="spacingAndGlyphs">298</text>
<line x1="423.3" y1="643.1" x2="423.3" y2="646.1" stroke="#8c8c8c" stroke-width="1"/>
<text x="423.7" y="658.1" font-family="'Liberation Sans', Arial, sans-serif" font-size="8.4" font-weight="bold" text-anchor="middle" fill="#000" stroke="#000" stroke-width="0.25" textLength="14.55" lengthAdjust="spacingAndGlyphs">296</text>
<line x1="451.2" y1="643.1" x2="451.2" y2="646.1" stroke="#8c8c8c" stroke-width="1"/>
<text x="451.6" y="658.1" font-family="'Liberation Sans', Arial, sans-serif" font-size="8.4" font-weight="bold" text-anchor="middle" fill="#000" stroke="#000" stroke-width="0.25" textLength="14.55" lengthAdjust="spacingAndGlyphs">294</text>
<line x1="479.1" y1="643.1" x2="479.1" y2="646.1" stroke="#8c8c8c" stroke-width="1"/>
<text x="479.5" y="658.1" font-family="'Liberation Sans', Arial, sans-serif" font-size="8.4" font-weight="bold" text-anchor="middle" fill="#000" stroke="#000" stroke-width="0.25" textLength="14.55" lengthAdjust="spacingAndGlyphs">292</text>
<line x1="507.0" y1="643.1" x2="507.0" y2="646.1" stroke="#8c8c8c" stroke-width="1"/>
<text x="507.4" y="658.1" font-family="'Liberation Sans', Arial, sans-serif" font-size="8.4" font-weight="bold" text-anchor="middle" fill="#000" stroke="#000" stroke-width="0.25" textLength="14.55" lengthAdjust="spacingAndGlyphs">290</text>
<line x1="534.9" y1="643.1" x2="534.9" y2="646.1" stroke="#8c8c8c" stroke-width="1"/>
<text x="535.3" y="658.1" font-family="'Liberation Sans', Arial, sans-serif" font-size="8.4" font-weight="bold" text-anchor="middle" fill="#000" stroke="#000" stroke-width="0.25" textLength="14.55" lengthAdjust="spacingAndGlyphs">288</text>
<text x="362.7" y="675.4" font-family="'Liberation Sans', Arial, sans-serif" font-size="9.9" font-weight="bold" text-anchor="start" fill="#000" stroke="#000" stroke-width="0.25" textLength="94.6" lengthAdjust="spacingAndGlyphs">Binding Energy (eV)</text>
<line x1="298.4" y1="477.3" x2="317.8" y2="477.3" stroke="#ff8080" stroke-width="1.4"/>
<line x1="298.4" y1="488.2" x2="317.8" y2="488.2" stroke="#8080ff" stroke-width="1.4"/>
<text x="321.7" y="480.2" font-family="'Liberation Sans', Arial, sans-serif" font-size="8.4" font-weight="bold" text-anchor="start" fill="#000" stroke="#000" stroke-width="0.25" textLength="91.6" lengthAdjust="spacingAndGlyphs">K2p before adsorption</text>
<text x="321.7" y="491.09999999999997" font-family="'Liberation Sans', Arial, sans-serif" font-size="8.4" font-weight="bold" text-anchor="start" fill="#000" stroke="#000" stroke-width="0.25" textLength="83.6" lengthAdjust="spacingAndGlyphs">K2p after adsorption</text>
<text x="509.2" y="481.5" font-family="'Liberation Sans', Arial, sans-serif" font-size="16.6" font-weight="bold" text-anchor="start" fill="#000" stroke="#000" stroke-width="0.25" textLength="18.1" lengthAdjust="spacingAndGlyphs">(F)</text>
<polygon points="459.85,601.50 463.55,601.50 463.55,612.00 467.20,612.00 461.70,623.00 456.20,612.00 459.85,612.00" fill="#1f6fc9"/>
</svg>
</body></html>
